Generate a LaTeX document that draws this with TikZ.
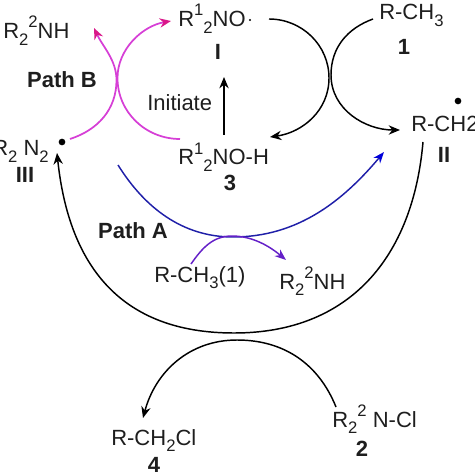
\documentclass[tikz,border=0pt]{standalone}
\usepackage{fontspec}
\setmainfont{Liberation Sans}
\usetikzlibrary{arrows.meta}
\newcommand{\supr}[1]{\raisebox{0.5em}{\fontsize{12.5pt}{12.5pt}\selectfont #1}}
\newcommand{\subr}[1]{\raisebox{-0.28em}{\fontsize{12.5pt}{12.5pt}\selectfont #1}}
\definecolor{pathb}{HTML}{D63FD6}
\definecolor{patha}{HTML}{1F1FA8}
\definecolor{pathmix}{HTML}{6420C8}
\definecolor{ink}{HTML}{1E1E1E}
\tikzset{
	chemtext/.style={anchor=base west, inner sep=0pt, text=ink, font=\fontsize{16.5pt}{16.5pt}\selectfont},
	chemnum/.style={inner sep=0pt, text=ink, font=\bfseries\fontsize{16.5pt}{16.5pt}\selectfont},
	radical/.style={circle, fill=black, inner sep=0pt, minimum size=#1},
	blackarc/.style={draw=black, line width=1.1pt, -{Stealth[length=8.5pt,width=7pt]}},
	magarc/.style={draw=pathb, line width=1.3pt, -{Stealth[length=8.5pt,width=7pt,color=magenta!90!black]}},
	bluearc/.style={draw=patha, line width=1.1pt, -{Stealth[length=8.5pt,width=6.5pt,color=blue!85!black]}},
	purparc/.style={draw=pathmix, line width=1.1pt, -{Stealth[length=8.5pt,width=6.5pt,color=pathmix]}}
}
\begin{document}
\begin{tikzpicture}[x=0.75pt,y=-0.75pt]
	\useasboundingbox (0,0) rectangle (474,474);
	% Species
	\node[chemtext] (nhtop) at (3,39) {R\subr{2}\supr{2}NH};
	\node[chemtext] (nitroxyl) at (178,27) {R\supr{1}\subr{2}NO};
	\node[radical=1.6pt] (dotI) at (250,20) {};
	\node[chemnum] (numI) at (218,52) {I};
	\node[chemtext] (toluene) at (379,20) {R-CH\subr{3}};
	\node[chemnum] (numA) at (404,47) {1};
	\node[chemtext] (benzyl) at (411,132) {R-CH2};
	\node[radical=5pt] (dotII) at (458,101) {};
	\node[chemnum] (numII) at (444,155) {II};
	\node[chemtext] (hydroxyl) at (178,165) {R\supr{1}\subr{2}NO-H};
	\node[chemnum] (numC) at (230,183) {3};
	\node[chemtext] (aminyl) at (-8,156) {R\subr{2} N\subr{2}};
	\node[radical=5pt] (dotIII) at (62,142) {};
	\node[chemnum] (numIII) at (25,175) {III};
	\node[chemtext] (reactA) at (154,282) {R-CH\subr{3}(1)};
	\node[chemtext] (nhlow) at (279,289) {R\subr{2}\supr{2}NH};
	\node[chemtext] (chloride) at (111,445) {R-CH\subr{2}Cl};
	\node[chemnum] (numD) at (154,465) {4};
	\node[chemtext] (nchlor) at (332,427) {R\subr{2}\supr{2} N-Cl};
	\node[chemnum] (numB) at (362,449) {2};
	% Path names
	\node[chemnum] (pathB) at (62,80) {Path B};
	\node[chemnum] (pathA) at (133,231) {Path A};
	\node[chemtext] (initiate) at (147,111) {Initiate};
	% Free ends of the curves
	\coordinate (bA) at (70,139);
	\coordinate (bB) at (116.5,80);
	\coordinate (bC) at (94,28);
	\coordinate (bD) at (180,139);
	\coordinate (bE) at (117.5,78);
	\coordinate (bF) at (171,21);
	\coordinate (kA) at (269,19);
	\coordinate (kB) at (329,78);
	\coordinate (kC) at (270,137);
	\coordinate (kD) at (373,19);
	\coordinate (kE) at (331,75);
	\coordinate (kF) at (400,130);
	\coordinate (uA) at (118,165);
	\coordinate (uB) at (233,237);
	\coordinate (uC) at (384,152);
	\coordinate (pA) at (191,264);
	\coordinate (pB) at (232,236);
	\coordinate (pC) at (286,260);
	\coordinate (gA) at (423,142);
	\coordinate (gB) at (234,333);
	\coordinate (gC) at (57,153);
	\coordinate (lA) at (336,407);
	\coordinate (lB) at (237,340);
	\coordinate (lC) at (143,418);
	\coordinate (iA) at (224,135);
	\coordinate (iB) at (224,77);
	% Path B
	\draw[magarc] (bA) to[out=18,in=-90,looseness=1] (bB) to[out=90,in=-65,looseness=0.9] (bC);
	\draw[magarc] (bD) to[out=180,in=-90,looseness=1] (bE) to[out=90,in=190,looseness=0.95] (bF);
	% Cycle in black
	\draw[blackarc] (kA) to[out=0,in=90,looseness=1] (kB) to[out=-90,in=8,looseness=1] (kC);
	\draw[blackarc] (kD) to[out=200,in=90,looseness=1] (kE) to[out=-90,in=180,looseness=1] (kF);
	\draw[blackarc] (iA) -- (iB);
	% Path A
	\draw[bluearc] (uA) to[out=-58,in=180,looseness=0.95] (uB) to[out=0,in=-130,looseness=0.95] (uC);
	\draw[purparc] (pA) to[out=55,in=180,looseness=1] (pB) to[out=0,in=140,looseness=0.9] (pC);
	% Big arcs
	\draw[blackarc] (gA) to[out=-95,in=0,looseness=1.1] (gB) to[out=180,in=-84,looseness=1.15] (gC);
	\draw[blackarc] (lA) to[out=112,in=0,looseness=1] (lB) to[out=180,in=75,looseness=1] (lC);
\end{tikzpicture}
\end{document}
